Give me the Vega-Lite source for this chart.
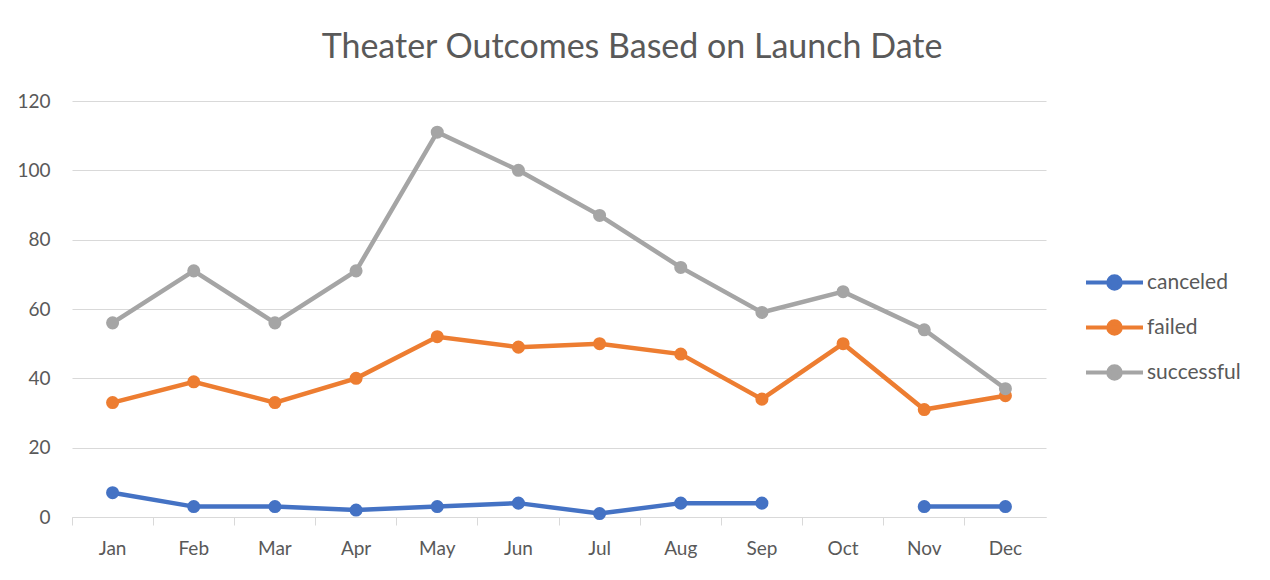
{
  "$schema": "https://vega.github.io/schema/vega-lite/v6.json",
  "width": 974,
  "height": 416,
  "autosize": {"type": "none"},
  "padding": {"left": 72, "top": 101, "right": 224, "bottom": 63},
  "background": "white",
  "title": {
    "text": "Theater Outcomes Based on Launch Date",
    "anchor": "middle",
    "frame": "group",
    "dx": 73,
    "offset": 27,
    "font": "Lato",
    "fontSize": 34,
    "fontWeight": "normal",
    "color": "#595959"
  },
  "data": {
    "values": [
      {"month": "Jan", "outcome": "canceled", "count": 7},
      {"month": "Feb", "outcome": "canceled", "count": 3},
      {"month": "Mar", "outcome": "canceled", "count": 3},
      {"month": "Apr", "outcome": "canceled", "count": 2},
      {"month": "May", "outcome": "canceled", "count": 3},
      {"month": "Jun", "outcome": "canceled", "count": 4},
      {"month": "Jul", "outcome": "canceled", "count": 1},
      {"month": "Aug", "outcome": "canceled", "count": 4},
      {"month": "Sep", "outcome": "canceled", "count": 4},
      {"month": "Oct", "outcome": "canceled", "count": null},
      {"month": "Nov", "outcome": "canceled", "count": 3},
      {"month": "Dec", "outcome": "canceled", "count": 3},
      {"month": "Jan", "outcome": "failed", "count": 33},
      {"month": "Feb", "outcome": "failed", "count": 39},
      {"month": "Mar", "outcome": "failed", "count": 33},
      {"month": "Apr", "outcome": "failed", "count": 40},
      {"month": "May", "outcome": "failed", "count": 52},
      {"month": "Jun", "outcome": "failed", "count": 49},
      {"month": "Jul", "outcome": "failed", "count": 50},
      {"month": "Aug", "outcome": "failed", "count": 47},
      {"month": "Sep", "outcome": "failed", "count": 34},
      {"month": "Oct", "outcome": "failed", "count": 50},
      {"month": "Nov", "outcome": "failed", "count": 31},
      {"month": "Dec", "outcome": "failed", "count": 35},
      {"month": "Jan", "outcome": "successful", "count": 56},
      {"month": "Feb", "outcome": "successful", "count": 71},
      {"month": "Mar", "outcome": "successful", "count": 56},
      {"month": "Apr", "outcome": "successful", "count": 71},
      {"month": "May", "outcome": "successful", "count": 111},
      {"month": "Jun", "outcome": "successful", "count": 100},
      {"month": "Jul", "outcome": "successful", "count": 87},
      {"month": "Aug", "outcome": "successful", "count": 72},
      {"month": "Sep", "outcome": "successful", "count": 59},
      {"month": "Oct", "outcome": "successful", "count": 65},
      {"month": "Nov", "outcome": "successful", "count": 54},
      {"month": "Dec", "outcome": "successful", "count": 37}
    ]
  },
  "mark": {
    "type": "line",
    "strokeWidth": 4.5,
    "point": {"filled": true, "size": 170}
  },
  "encoding": {
    "x": {
      "field": "month",
      "type": "nominal",
      "sort": ["Jan", "Feb", "Mar", "Apr", "May", "Jun", "Jul", "Aug", "Sep", "Oct", "Nov", "Dec"],
      "scale": {"type": "band", "paddingInner": 0, "paddingOuter": 0},
      "axis": {
        "title": null,
        "labelAngle": 0,
        "bandPosition": 0,
        "grid": false,
        "domainColor": "#D9D9D9",
        "tickColor": "#D9D9D9",
        "tickSize": 8,
        "labelPadding": 14,
        "labelFont": "Lato",
        "labelFontSize": 19,
        "labelColor": "#595959"
      }
    },
    "y": {
      "field": "count",
      "type": "quantitative",
      "scale": {"domain": [0, 120]},
      "axis": {
        "title": null,
        "values": [0, 20, 40, 60, 80, 100, 120],
        "domain": false,
        "ticks": false,
        "gridColor": "#D9D9D9",
        "labelPadding": 22,
        "labelFont": "Lato",
        "labelFontSize": 19,
        "labelColor": "#595959"
      }
    },
    "color": {
      "field": "outcome",
      "type": "nominal",
      "scale": {
        "domain": ["canceled", "failed", "successful"],
        "range": ["#4472C4", "#ED7D31", "#A5A5A5"]
      },
      "legend": {
        "title": null,
        "orient": "none",
        "legendX": 1012,
        "legendY": 151,
        "symbolType": "M -1 0 L 1 0 M -0.22 0 A 0.22 0.22 0 1 0 0.22 0 A 0.22 0.22 0 1 0 -0.22 0",
        "symbolSize": 3249,
        "symbolStrokeWidth": 4,
        "rowPadding": -1,
        "labelOffset": 2,
        "labelFont": "Lato",
        "labelFontSize": 21,
        "labelColor": "#595959",
        "encode": {
          "symbols": {
            "update": {
              "fill": {"scale": "color", "field": "value"},
              "stroke": {"scale": "color", "field": "value"}
            }
          }
        }
      }
    }
  },
  "config": {"view": {"stroke": null}}
}
